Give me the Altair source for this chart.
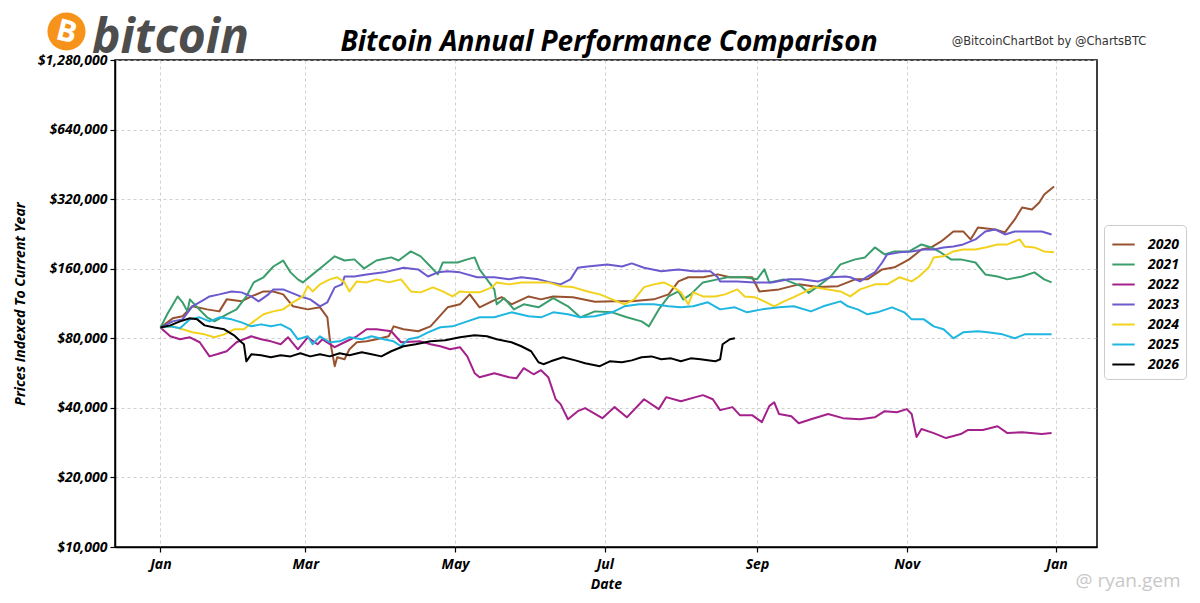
import altair as alt
import pandas as pd

years = ["2020", "2021", "2022", "2023", "2024", "2025", "2026"]
colors = ["#98522f", "#3a9e6c", "#a4208a", "#6a5acd", "#f2d21c", "#1fb6e0", "#000000"]
widths = [2, 2, 2, 2, 2, 2, 3.2]

# day of year (0 = Jan 1) and price indexed to the current year (USD)
days_2020 = [0,5,9,13,19,24,27,33,37,42,46,50,54,60,65,68,69,71,72,75,77,80,84,88,93,95,99,105,110,117,
             122,126,130,135,139,143,150,155,160,168,177,185,192,201,207,211,215,221,227,232,241,244,252,260,
             268,276,283,288,294,299,305,310,314,318,323,327,330,333,340,344,348,351,355,358,360,364]
usd_2020 = [89000,97600,99600,110000,106700,104600,117900,115600,121400,127600,127600,123900,110000,106700,
            108900,98600,79200,60600,66200,64900,71700,76900,77600,79200,81600,90100,87500,85800,90100,108900,
            112200,123900,108900,115600,120500,112200,121400,117900,121400,120500,115100,115600,115600,117900,
            123900,141000,146900,146900,151200,146900,146900,127600,130200,136900,133200,134500,143900,143900,
            158900,162200,175600,193900,197800,210000,232000,232000,214200,241400,236600,229600,261400,294600,
            288700,309600,335200,363000]

days_2021 = [0,3,7,9,11,12,15,19,22,27,31,35,38,42,46,50,53,56,58,62,66,71,75,79,83,88,94,97,102,106,
             110,113,115,121,125,128,130,133,136,137,140,144,148,154,160,166,171,177,184,190,196,199,203,207,
             211,213,216,221,227,231,238,243,246,248,254,261,264,268,273,277,283,287,291,295,299,305,310,314,
             318,322,326,332,336,341,345,351,356,360,363]
usd_2021 = [89000,102600,121400,114500,104600,117900,108900,98600,94700,101600,106700,121400,139600,146900,
            163600,173600,154300,143900,139600,151200,163600,181000,173600,175600,160500,173600,179100,173600,
            190100,181000,163600,151200,170200,170200,175600,179100,158900,143900,130200,112200,119300,106700,
            112200,108900,119300,110000,98600,104600,103600,98600,94700,90100,106700,121400,127600,117900,
            123900,139600,143900,146900,146900,143900,158900,139600,143900,134500,125800,134500,148000,167000,
            175600,179100,197800,184500,190100,190100,203800,197800,187600,175600,175600,170200,151200,148000,
            143900,148000,154300,143900,139600]

days_2022 = [0,4,8,12,16,20,23,27,31,37,41,45,49,52,56,60,64,66,71,75,80,84,88,94,98,106,110,114,118,122,
             125,128,130,136,142,145,148,152,155,158,161,163,166,170,173,180,185,190,197,203,206,212,218,221,
             225,228,233,236,241,245,248,250,252,257,260,265,272,278,285,291,295,300,304,306,308,310,315,320,
             326,329,335,341,345,351,359,363]
usd_2022 = [89000,81600,79200,80800,76900,66800,68200,70300,76900,81600,79200,77600,75400,80800,71700,80800,
            75400,79200,73200,76900,81600,87500,87500,85800,76900,77600,75400,73900,71700,73200,66800,56500,
            54300,56500,54300,53700,59400,55900,58200,54300,43600,41500,35700,38700,39900,36100,40300,36400,
            43600,39500,44500,42700,44500,45400,43600,39100,40300,37200,37200,34700,40700,42300,37600,36800,
            34300,35700,37600,36100,35700,36400,38700,38300,39500,37600,29900,32400,31100,29600,30800,32100,
            32100,33300,31100,31400,30800,31100]

days_2023 = [0,5,9,13,18,20,24,29,33,37,40,44,46,50,53,57,61,65,68,71,74,75,79,84,91,99,105,109,113,117,
             122,129,136,142,147,154,159,163,167,170,174,182,188,192,197,204,211,217,224,227,228,235,242,249,
             256,261,268,273,279,281,285,288,291,294,296,301,306,311,315,319,323,327,332,336,340,344,348,354,
             359,363]
usd_2023 = [89000,94700,96600,110000,117900,121400,123900,127600,126400,121400,115600,123900,130200,130200,
            126400,121400,117900,110000,114500,132800,136900,148000,148000,151200,154300,161600,158900,148000,
            154300,155900,154300,146900,146900,143900,146900,143900,139600,136900,143900,161600,163600,167000,
            163600,168700,161600,155900,158900,155900,155900,146900,141000,141000,139600,139600,143900,143900,
            141000,146900,148000,146900,141000,148000,154300,170200,184500,188300,190100,193900,193900,197800,
            199800,203800,214200,232000,236600,225100,232000,232000,232000,225100]

days_2024 = [0,5,9,13,18,22,26,30,34,38,42,46,50,54,58,60,62,65,69,72,75,77,80,84,88,93,98,102,106,111,
             115,119,122,126,130,135,137,142,147,152,158,163,168,174,179,184,189,193,197,201,205,209,212,215,
             217,221,226,230,235,238,242,246,250,254,258,262,266,272,277,281,285,291,296,301,306,309,313,315,
             319,323,327,332,336,341,345,350,352,356,360,364]
usd_2024 = [89000,90100,87500,84900,83200,80800,83200,87500,87500,94700,101600,104600,106700,114500,121400,
            134500,127600,136900,143900,146900,139600,127600,141000,139600,143900,139600,143900,127600,126400,
            132800,127600,121400,127600,126400,126400,132800,139600,136900,139600,139600,139600,134500,133200,
            127600,123900,117900,112200,117900,133200,136900,139600,133200,126400,112200,126400,121400,121400,
            123900,130200,121400,120500,115600,110000,115600,120500,126400,133200,130200,127600,121400,130200,
            136900,136900,146900,141000,148000,162200,179100,181000,190100,193900,193900,197800,203800,203800,
            214200,199800,197800,190100,188300]

days_2025 = [0,4,8,12,16,20,24,29,33,37,41,45,49,53,56,60,62,65,69,73,77,82,86,91,95,98,101,105,109,114,
             119,125,130,136,143,150,155,160,166,171,177,184,189,195,201,207,212,217,223,228,234,239,245,252,
             258,265,270,277,280,284,288,292,298,303,306,311,315,319,323,327,333,337,343,348,352,358,363]
usd_2025 = [89000,90100,88400,96600,98600,94700,98600,96600,93700,90100,91900,90100,91900,87500,79200,81600,
            75400,81600,76900,77600,80800,79200,81600,79200,77600,73900,79200,80800,84900,89300,90100,94700,
            98600,98600,103600,99600,98600,103600,101600,98600,99600,103600,110000,112200,112200,110000,108900,
            110000,114500,106700,108900,103600,106700,108900,110000,104600,110000,115600,110000,106700,101600,
            103600,108900,103600,96600,96600,90100,87500,80000,84900,85800,84900,83200,80000,83200,83200,83200]

days_2026 = [0,4,8,12,15,18,22,26,30,33,34,35,37,41,45,49,53,57,61,65,69,73,77,82,86,90,94,99,104,110,
             116,122,128,133,137,143,147,151,154,156,159,164,169,173,179,183,188,192,196,200,204,208,212,216,
             220,226,228,229,232,234]
usd_2026 = [89000,91000,94700,97600,96600,91000,89000,87500,82400,76900,75400,63600,68200,67500,66200,67500,
            66800,68900,66800,68200,66800,68900,67500,69600,68200,66800,70300,73900,75400,77600,78400,80800,
            82400,81600,79200,76900,73900,70300,63000,61800,63600,66200,64200,62400,60600,63600,63000,64200,
            66200,66800,64900,65500,63600,65500,64900,63600,64900,75400,79200,80000]

y_ticks = [10000, 20000, 40000, 80000, 160000, 320000, 640000, 1280000]

series = [
    ("2020", days_2020, usd_2020), ("2021", days_2021, usd_2021), ("2022", days_2022, usd_2022),
    ("2023", days_2023, usd_2023), ("2024", days_2024, usd_2024), ("2025", days_2025, usd_2025),
    ("2026", days_2026, usd_2026),
]
base = pd.Timestamp("2026-01-01")
rows = []
for i, (yr, ds, vs) in enumerate(series):
    for d, v in zip(ds, vs):
        rows.append({"Year": yr, "k": i, "date": (base + pd.Timedelta(days=d)).strftime("%Y-%m-%d"), "price": v})
df = pd.DataFrame(rows)

FONT = "Open Sans"

legend = alt.Legend(
    title=None, orient="none", legendX=989, legendY=165,
    symbolType="stroke", symbolSize=500, symbolStrokeWidth=2.5,
    labelFont=FONT, labelFontSize=14, labelFontWeight="bold", labelFontStyle="italic", labelColor="black",
    labelOffset=12, fillColor="white", strokeColor="#cccccc", cornerRadius=4, padding=7, rowPadding=0,
)

x_ticks = [alt.DateTime(year=2026, month=m, date=1, utc=True) for m in [1, 3, 5, 7, 9, 11]] + \
          [alt.DateTime(year=2027, month=1, date=1, utc=True)]

lines = alt.Chart(df).mark_line(strokeJoin="round").encode(
    x=alt.X("date:T", title="Date",
            scale=alt.Scale(type="utc",
                            domain=[alt.DateTime(year=2025, month=12, date=13, hours=12, utc=True),
                                    alt.DateTime(year=2027, month=1, date=17, hours=12, utc=True)]),
            axis=alt.Axis(values=x_ticks, format="%b", labelPadding=5, titlePadding=6, labelFlush=False)),
    y=alt.Y("price:Q", title="Prices Indexed To Current Year",
            scale=alt.Scale(type="log", domain=[10000, 1280000], nice=False),
            axis=alt.Axis(values=y_ticks, format="$,.0f", labelPadding=3, titlePadding=10)),
    color=alt.Color("Year:N", scale=alt.Scale(domain=years, range=colors), legend=legend),
    strokeWidth=alt.StrokeWidth("Year:N", scale=alt.Scale(domain=years, range=widths), legend=legend),
    order=alt.Order("k:Q"),
)

one = pd.DataFrame({"a": [0]})

coin = alt.Chart(one).mark_circle(size=1450, color="#f7931a", opacity=1).encode(
    x=alt.value(-48.5), y=alt.value(-28.5))
coin_b = alt.Chart(one).mark_text(text="B", font=FONT, fontSize=30, fontWeight="bold", color="white",
                                  angle=14, align="center", baseline="middle").encode(
    x=alt.value(-48.5), y=alt.value(-27.5))
word = alt.Chart(one).mark_text(text="bitcoin", font=FONT, fontSize=48, fontWeight="bold", fontStyle="italic",
                                color="#4d4d4d", align="left", baseline="alphabetic").encode(
    x=alt.value(-23), y=alt.value(-7))
title = alt.Chart(one).mark_text(text="Bitcoin Annual Performance Comparison", font=FONT, fontSize=28,
                                 fontWeight="bold", fontStyle="italic", color="black",
                                 align="center", baseline="alphabetic").encode(
    x=alt.value(494), y=alt.value(-9))
credit = alt.Chart(one).mark_text(text="@BitcoinChartBot by @ChartsBTC", font="DejaVu Sans", fontSize=11.5,
                                  color="#333333", align="center", baseline="alphabetic").encode(
    x=alt.value(934), y=alt.value(-15))
mark = alt.Chart(one).mark_text(text="@ ryan.gem", font=FONT, fontSize=19, color="#c8c8c8",
                                align="center", baseline="alphabetic").encode(
    x=alt.value(1013), y=alt.value(527))

chart = alt.layer(lines, coin, coin_b, word, title, credit, mark).properties(
    width=982, height=487,
    padding={"left": 107, "top": 52, "right": 95, "bottom": 48},
    autosize=alt.AutoSizeParams(type="none"),
    background="white",
).configure_view(stroke="black", strokeWidth=1.5).configure_axis(
    grid=True, gridColor="#c4c4c4", gridDash=[3, 3], gridWidth=0.8,
    domainColor="black", domainWidth=1.5, tickColor="black", tickSize=5, tickWidth=1.2,
    labelFont=FONT, labelFontSize=14, labelFontWeight="bold", labelFontStyle="italic", labelColor="black",
    titleFont=FONT, titleFontSize=14, titleFontWeight="bold", titleFontStyle="italic", titleColor="black",
)

chart.save("out.html", embed_options={"renderer": "svg", "actions": False})
